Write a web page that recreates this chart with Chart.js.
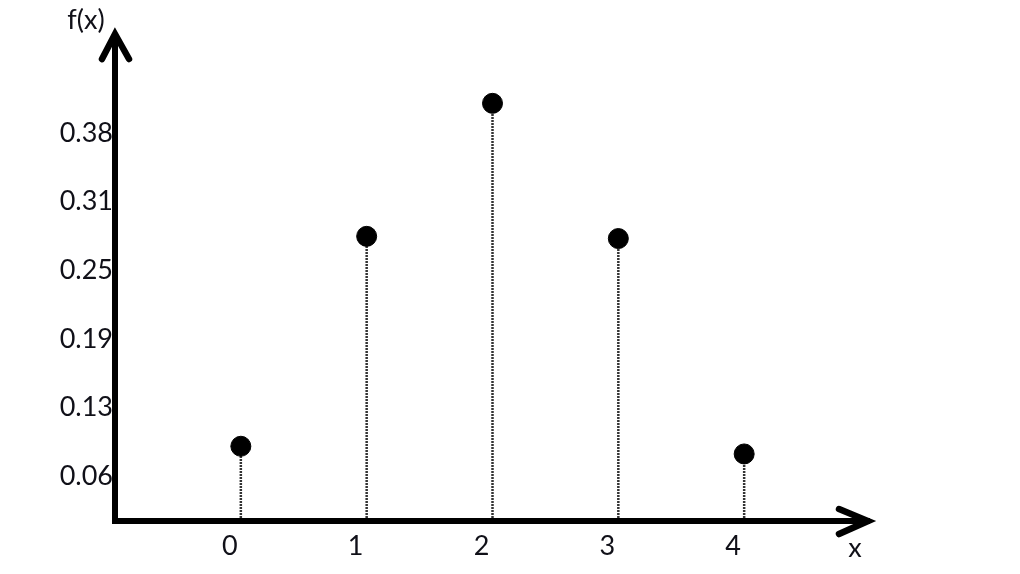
<!DOCTYPE html>
<html>
<head>
<meta charset="utf-8">
<script src="https://cdn.jsdelivr.net/npm/chart.js@4"></script>
<style>
  html, body { margin: 0; padding: 0; background: #fff; }
  #wrap { width: 1020px; height: 574px; }
</style>
</head>
<body>
<div id="wrap"><canvas id="pmf"></canvas></div>
<script>
// values (against its own tick labels)
const xValues = [0, 1, 2, 3, 4];
const fValues = [0.09, 0.281, 0.402, 0.279, 0.083];
const yTicks = [0.0625, 0.125, 0.1875, 0.25, 0.3125, 0.375];
const yTickLabels = ['0.06', '0.13', '0.19', '0.25', '0.31', '0.38'];
const yMin = 0.022;
const yMax = 0.466;

const FONT = 'Lato, "Open Sans", sans-serif';
const INK = '#101018';

// stems: one segment per x, broken by null gaps
const stemPoints = [];
xValues.forEach((x, i) => {
  stemPoints.push({ x: x, y: yMin }, { x: x, y: fValues[i] }, { x: x, y: null });
});

// axes with arrow heads + the f(x) / x labels
const axesPlugin = {
  id: 'arrowAxes',
  afterDraw(chart) {
    const { ctx, chartArea } = chart;
    const { left, right, top, bottom } = chartArea;
    ctx.save();
    ctx.strokeStyle = '#000';
    ctx.lineWidth = 6;
    ctx.lineCap = 'square';
    ctx.beginPath();
    ctx.moveTo(left, bottom);
    ctx.lineTo(left, top + 3);
    ctx.moveTo(left, bottom);
    ctx.lineTo(right - 3, bottom);
    ctx.stroke();

    ctx.lineCap = 'round';
    ctx.lineWidth = 6.5;
    ctx.beginPath();
    ctx.moveTo(left - 13, top + 26);
    ctx.lineTo(left, top + 1);
    ctx.lineTo(left + 14, top + 26);
    ctx.moveTo(right - 31, bottom - 12);
    ctx.lineTo(right - 2, bottom);
    ctx.lineTo(right - 31, bottom + 13);
    ctx.stroke();

    ctx.fillStyle = INK;
    ctx.font = '27px ' + FONT;
    ctx.textAlign = 'center';
    ctx.textBaseline = 'middle';
    ctx.fillText('f(x)', 86, 20);
    ctx.fillText('x', 855, 548);
    ctx.restore();
  }
};

new Chart(document.getElementById('pmf'), {
  type: 'scatter',
  data: {
    datasets: [
      {
        type: 'line',
        order: 2,
        data: stemPoints,
        borderColor: '#333',
        borderWidth: 2.5,
        borderDash: [2, 1],
        pointRadius: 0,
        spanGaps: false,
        fill: false
      },
      {
        order: 1,
        data: xValues.map((x, i) => ({ x: x, y: fValues[i] })),
        backgroundColor: '#000',
        borderColor: '#000',
        pointRadius: 10,
        pointHoverRadius: 10
      }
    ]
  },
  options: {
    responsive: true,
    maintainAspectRatio: false,
    animation: false,
    layout: { padding: { left: 0, right: 150, top: 33, bottom: 0 } },
    plugins: {
      legend: { display: false },
      tooltip: { enabled: false }
    },
    scales: {
      x: {
        type: 'linear',
        min: -1,
        max: 5,
        grid: { display: false, drawTicks: false },
        border: { display: false },
        afterBuildTicks: scale => { scale.ticks = xValues.map(v => ({ value: v })); },
        afterFit: scale => { scale.height = 53; },
        ticks: {
          autoSkip: false,
          maxRotation: 0,
          padding: 9,
          labelOffset: -11,
          color: INK,
          font: { family: FONT, size: 27 },
          callback: v => String(v)
        }
      },
      y: {
        min: yMin,
        max: yMax,
        grid: { display: false, drawTicks: false },
        border: { display: false },
        afterBuildTicks: scale => { scale.ticks = yTicks.map(v => ({ value: v })); },
        afterFit: scale => { scale.width = 115; },
        ticks: {
          autoSkip: false,
          padding: 2,
          color: INK,
          font: { family: FONT, size: 27 },
          callback: (v, i) => yTickLabels[i]
        }
      }
    }
  },
  plugins: [axesPlugin]
});
</script>
</body>
</html>
